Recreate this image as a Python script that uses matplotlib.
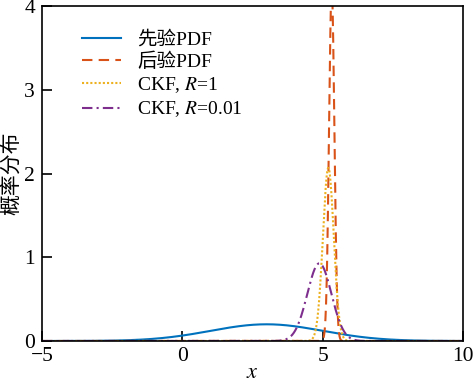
import numpy as np
import matplotlib
matplotlib.use("Agg")
import matplotlib.pyplot as plt

plt.rcParams['font.family'] = ['Liberation Serif', 'Noto Sans CJK SC']
plt.rcParams['mathtext.fontset'] = 'stix'

# Gaussian PDF parameters
labels = ['先验PDF', '后验PDF', 'CKF, $R$=1', 'CKF, $R$=0.01']
means = [3.0, 5.32, 5.2, 4.88]
stds = [2.0, 0.095, 0.193, 0.43]
colors = ['#0072BD', '#D95319', '#EDB120', '#7E2F8E']
styles = ['-', (0, (5, 3)), (0, (1, 1)), (0, (5, 2, 1, 2))]

xticks = [-5, 0, 5, 10]
yticks = [0, 1, 2, 3, 4]

x = np.linspace(-5, 10, 3001)

fig = plt.figure(figsize=(4.74, 3.84), dpi=100)
ax = fig.add_axes([0.0886, 0.112, 0.8884, 0.872])
for lab, m, s, c, ls in zip(labels, means, stds, colors, styles):
    y = np.exp(-0.5 * ((x - m) / s) ** 2) / (s * np.sqrt(2 * np.pi))
    ax.plot(x, y, color=c, linestyle=ls, linewidth=1.5, label=lab)

ax.set_xlim(-5, 10)
ax.set_ylim(0, 4)
ax.set_xticks(xticks)
ax.set_yticks(yticks)
ax.set_xticklabels(['\u22125', '0', '5', '10'])
ax.tick_params(direction='in', length=7, width=1.2, labelsize=15.5)
ax.tick_params(axis='x', pad=4)
ax.tick_params(axis='y', pad=5)
for sp in ax.spines.values():
    sp.set_linewidth(1.2)
ax.set_xlabel('$x$', fontsize=16, labelpad=-1)
ax.set_ylabel('概率分布', fontsize=15, labelpad=1)
ax.legend(loc='upper left', frameon=False, fontsize=14, handlelength=2.0,
          labelspacing=0.22, borderaxespad=0.6, bbox_to_anchor=(0.05, 0.985))

fig.savefig('out.png', dpi=100)
